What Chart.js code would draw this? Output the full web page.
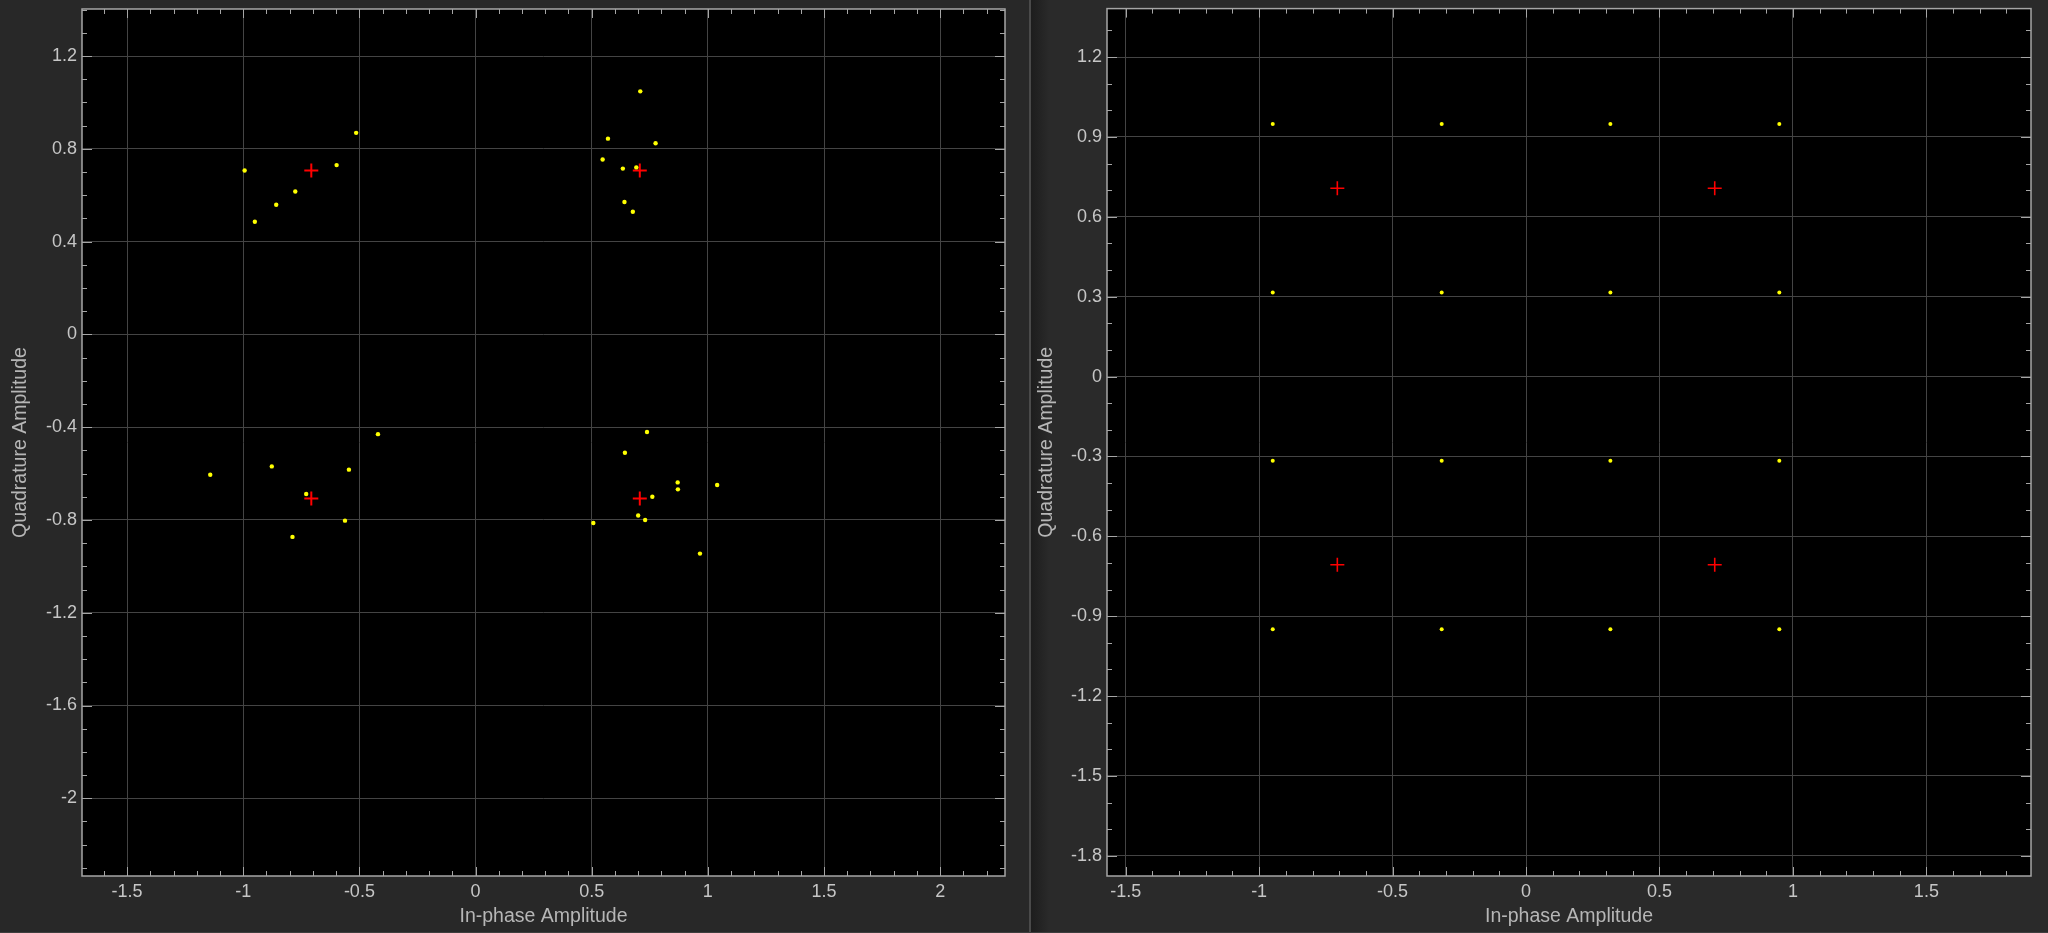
<!DOCTYPE html>
<html>
<head>
<meta charset="utf-8">
<title>Constellation diagrams</title>
<script src="https://cdn.jsdelivr.net/npm/chart.js@4.4.1/dist/chart.umd.min.js"></script>
<style>
    html, body { margin: 0; padding: 0; background: #282828; overflow: hidden; }
    #page { position: relative; width: 2048px; height: 933px; }
    .panel { position: absolute; top: 0; height: 933px; }
    #leftPanel { left: 0; width: 1029px; }
    #divider { position: absolute; left: 1029px; top: 0; width: 2px; height: 933px; background: #4a4a4a; }
    #rightPanel { left: 1031px; width: 1017px; background: linear-gradient(to right, #1d1d1d 0px, #2a2a2a 18px, #2a2a2a 100%); }
    #bottomLine { position: absolute; left: 0; top: 932px; width: 2048px; height: 1px; background: #3e3e3e; }
    canvas { display: block; }
</style>
</head>
<body>
<div id="page">
    <div class="panel" id="leftPanel"><canvas id="rxChart" width="1029" height="933"></canvas></div>
    <div id="divider"></div>
    <div class="panel" id="rightPanel"><canvas id="qamChart" width="1017" height="933"></canvas></div>
    <div id="bottomLine"></div>
</div>
<script>
// ========== DADOS ==========

// simbolos recebidos (painel esquerdo)
const RX_I = [-0.994, -0.950, -0.858, -0.776, -0.598, -0.514,
              0.709, 0.570, 0.775, 0.547, 0.634, 0.692, 0.641, 0.677,
              -1.142, -0.877, -0.545, -0.420, -0.729, -0.562, -0.788,
              0.738, 0.643, 0.870, 0.871, 1.040, 0.761, 0.700, 0.730, 0.507, 0.966];
const RX_Q = [0.707, 0.486, 0.559, 0.616, 0.730, 0.869,
              1.048, 0.844, 0.824, 0.754, 0.715, 0.720, 0.571, 0.529,
              -0.605, -0.569, -0.583, -0.430, -0.688, -0.803, -0.873,
              -0.421, -0.510, -0.638, -0.668, -0.649, -0.700, -0.781, -0.800, -0.813, -0.945];

// constelacao de referencia (QPSK)
const REF_I = [-0.707, 0.707, -0.707, 0.707];
const REF_Q = [0.707, 0.707, -0.707, -0.707];

// pontos 16-QAM (painel direito)
const QAM_I = [-0.949, -0.316, 0.316, 0.949,
               -0.949, -0.316, 0.316, 0.949,
               -0.949, -0.316, 0.316, 0.949,
               -0.949, -0.316, 0.316, 0.949];
const QAM_Q = [0.949, 0.949, 0.949, 0.949,
               0.316, 0.316, 0.316, 0.316,
               -0.316, -0.316, -0.316, -0.316,
               -0.949, -0.949, -0.949, -0.949];

// ticks
const LEFT_X_TICKS = [-1.5, -1, -0.5, 0, 0.5, 1, 1.5, 2];
const LEFT_Y_TICKS = [1.2, 0.8, 0.4, 0, -0.4, -0.8, -1.2, -1.6, -2];
const RIGHT_X_TICKS = [-1.5, -1, -0.5, 0, 0.5, 1, 1.5];
const RIGHT_Y_TICKS = [1.2, 0.9, 0.6, 0.3, 0, -0.3, -0.6, -0.9, -1.2, -1.5, -1.8];
const MINOR_STEP = 0.1;

const X_TITLE = 'In-phase Amplitude';
const Y_TITLE = 'Quadrature Amplitude';

// ========== ESTILO ==========
const COLORS = {
    plotBg: '#000000',
    grid: '#444444',
    frame: '#a6a6a6',
    tick: '#c6c6c6',
    title: '#b6b6b6',
    symbol: '#ffff00',
    reference: '#ff0000'
};
const FONT_FAMILY = "'Liberation Sans', Arial, Helvetica, sans-serif";

function toPoints(xs, ys) {
    return xs.map((x, i) => ({ x: x, y: ys[i] }));
}

// fundo preto + moldura com ticks para dentro (estilo MATLAB)
const framePlugin = {
    id: 'frame',
    beforeDraw(chart) {
        const { ctx, chartArea: a } = chart;
        ctx.save();
        ctx.fillStyle = COLORS.plotBg;
        ctx.fillRect(a.left, a.top, a.right - a.left, a.bottom - a.top);
        ctx.restore();
    },
    beforeDatasetsDraw(chart) {
        const { ctx, chartArea: a } = chart;
        const xs = chart.scales.x;
        const ys = chart.scales.y;
        const majorX = chart.options.scales.x.majorTicks;
        const majorY = chart.options.scales.y.majorTicks;
        ctx.save();
        ctx.strokeStyle = COLORS.frame;
        ctx.lineWidth = 1;
        ctx.beginPath();
        for (let k = Math.ceil(xs.min / MINOR_STEP - 1e-6); k * MINOR_STEP <= xs.max + 1e-9; k++) {
            const v = k * MINOR_STEP;
            const major = majorX.some(m => Math.abs(m - v) < 1e-6);
            const len = major ? 9 : 5;
            const px = Math.round(xs.getPixelForValue(v)) + 0.5;
            ctx.moveTo(px, a.bottom); ctx.lineTo(px, a.bottom - len);
            ctx.moveTo(px, a.top); ctx.lineTo(px, a.top + len);
        }
        for (let k = Math.ceil(ys.min / MINOR_STEP - 1e-6); k * MINOR_STEP <= ys.max + 1e-9; k++) {
            const v = k * MINOR_STEP;
            const major = majorY.some(m => Math.abs(m - v) < 1e-6);
            const len = major ? 10 : 5;
            const py = Math.round(ys.getPixelForValue(v)) + 0.5;
            ctx.moveTo(a.left, py); ctx.lineTo(a.left + len, py);
            ctx.moveTo(a.right, py); ctx.lineTo(a.right - len, py);
        }
        ctx.stroke();
        ctx.lineWidth = 1.5;
        ctx.strokeRect(a.left, a.top, a.right - a.left, a.bottom - a.top);
        ctx.restore();
    }
};

function axis(opts) {
    return {
        type: 'linear',
        position: opts.position,
        min: opts.min,
        max: opts.max,
        majorTicks: opts.ticks,
        afterBuildTicks: function (scale) {
            scale.ticks = opts.ticks.map(v => ({ value: v }));
        },
        afterFit: function (scale) {
            if (opts.position === 'bottom') scale.height = opts.size;
            else scale.width = opts.size;
            // os rotulos cabem dentro da area, sem folga extra
            scale.paddingTop = 0;
            scale.paddingBottom = 0;
            scale.paddingLeft = 0;
            scale.paddingRight = 0;
        },
        grid: { color: COLORS.grid, lineWidth: 1, drawTicks: false },
        border: { display: false },
        ticks: {
            color: COLORS.tick,
            autoSkip: false,
            maxRotation: 0,
            padding: 5,
            font: { family: FONT_FAMILY, size: 18 },
            callback: function (value) { return String(value); }
        },
        title: {
            display: true,
            text: opts.title,
            color: COLORS.title,
            font: { family: FONT_FAMILY, size: 19.5 },
            padding: opts.titlePadding
        }
    };
}

function createConstellation(canvasId, cfg) {
    const ctx = document.getElementById(canvasId);
    if (!ctx) return;

    new Chart(ctx, {
        type: 'scatter',
        data: {
            datasets: [{
                label: 'Simbolos',
                data: toPoints(cfg.symI, cfg.symQ),
                pointStyle: 'circle',
                pointRadius: cfg.dotRadius,
                pointBackgroundColor: COLORS.symbol,
                pointBorderColor: COLORS.symbol,
                pointBorderWidth: 0
            }, {
                label: 'Referencia',
                data: toPoints(REF_I, REF_Q),
                pointStyle: 'cross',
                pointRadius: 7,
                pointBorderColor: COLORS.reference,
                pointBorderWidth: cfg.crossWidth
            }]
        },
        options: {
            responsive: false,
            animation: false,
            events: [],
            layout: { padding: { top: 7, left: 0, bottom: 0, right: cfg.rightPad } },
            plugins: {
                legend: { display: false },
                tooltip: { enabled: false }
            },
            scales: {
                x: axis({ position: 'bottom', min: cfg.xMin, max: cfg.xMax, ticks: cfg.xTicks,
                          size: 57, title: X_TITLE, titlePadding: { top: 0, bottom: 5 } }),
                y: axis({ position: 'left', min: cfg.yMin, max: cfg.yMax, ticks: cfg.yTicks,
                          size: cfg.yWidth, title: Y_TITLE, titlePadding: { top: cfg.yTitlePad, bottom: 0 } })
            }
        },
        plugins: [framePlugin]
    });
}

createConstellation('rxChart', {
    symI: RX_I, symQ: RX_Q,
    xMin: -1.694, xMax: 2.279, yMin: -2.335, yMax: 1.403,
    xTicks: LEFT_X_TICKS, yTicks: LEFT_Y_TICKS,
    yWidth: 82, rightPad: 24, yTitlePad: 9,
    dotRadius: 2.2, crossWidth: 2
});

createConstellation('qamChart', {
    symI: QAM_I, symQ: QAM_Q,
    xMin: -1.570, xMax: 1.892, yMin: -1.876, yMax: 1.382,
    xTicks: RIGHT_X_TICKS, yTicks: RIGHT_Y_TICKS,
    yWidth: 76, rightPad: 17, yTitlePad: 4,
    dotRadius: 2, crossWidth: 1.6
});
</script>
</body>
</html>
